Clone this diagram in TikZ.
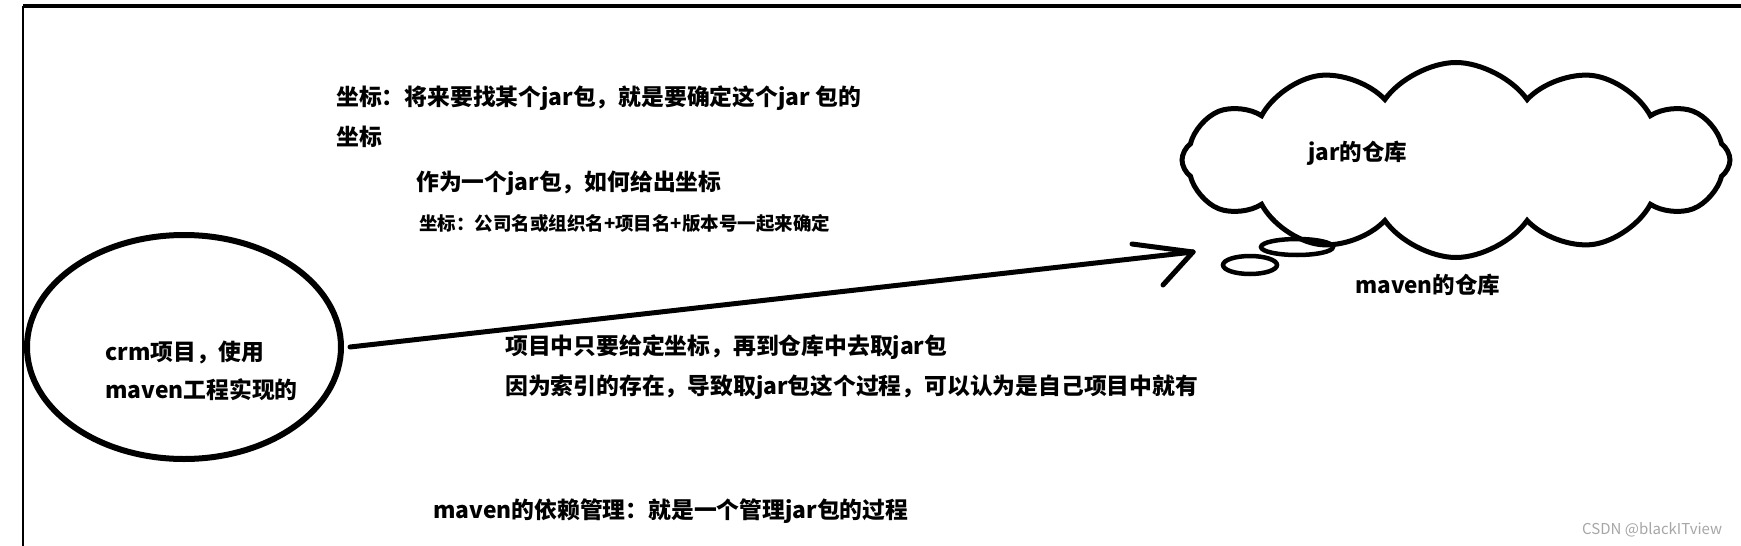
\documentclass[tikz,border=0pt]{standalone}
\usepackage{fontspec}
\newfontfamily\cjk{Noto Sans CJK SC}
\usetikzlibrary{shapes.geometric,shapes.symbols}

\begin{document}
\begin{tikzpicture}[x=1pt, y=-1pt,
    txt/.style={anchor=west, inner sep=0pt, font=\cjk\bfseries\fontsize{22.8}{27}\selectfont},
    smalltxt/.style={txt, font=\cjk\bfseries\fontsize{18.5}{22}\selectfont},
    stroke/.style={line width=5pt, line cap=round}]
    \useasboundingbox (0,0) rectangle (1741,546);

    % frame of the screenshot
    \draw[line width=4pt] (23,6) -- (1741,6);
    \draw[line width=2.5pt] (23,6) -- (23,546);

    \node[txt] (coordA) at (336,98)  {坐标：将来要找某个jar包，就是要确定这个jar 包的};
    \node[txt] (coordB) at (336,137) {坐标};
    \node[txt] (howto)  at (416,183) {作为一个jar包，如何给出坐标};
    \node[smalltxt] (gav) at (419,223) {坐标：公司名或组织名+项目名+版本号一起来确定};

    \node[ellipse, draw, line width=6pt, minimum width=314, minimum height=224] (crm) at (184,347) {};
    \node[txt, align=left, font=\cjk\bfseries\fontsize{22.8}{38}\selectfont] (crmtext) at (105,371)
        {crm项目，使用\\maven工程实现的};

    \node[cloud, draw, line width=5pt, cloud puffs=12, cloud puff arc=110, cloud ignores aspect,
          minimum width=548, minimum height=195] (repo) at (1456,160) {};
    \node[txt, font=\cjk\bfseries\fontsize{22.5}{26}\selectfont] (jarrepo) at (1308,153) {jar的仓库};
    \node[txt, font=\cjk\bfseries\fontsize{22.5}{26}\selectfont] (mvnrepo) at (1355,285) {maven的仓库};
    \draw[line width=4.5pt] (1297,247) ellipse [x radius=36, y radius=8];
    \draw[line width=4.5pt] (1250,265) ellipse [x radius=27, y radius=9];

    \coordinate (tip) at (1193,252);
    \draw[stroke] ([xshift=6pt]crm.east) -- (tip);
    \draw[stroke] (tip) -- ++(-61,-8);
    \draw[stroke] (tip) -- ++(-30,33);

    \node[txt] (fetch) at (505,347) {项目中只要给定坐标，再到仓库中去取jar包};
    \node[txt] (index) at (505,387) {因为索引的存在，导致取jar包这个过程，可以认为是自己项目中就有};
    \node[txt] (dep)   at (433,511) {maven的依赖管理：就是一个管理jar包的过程};

    \node[anchor=west, inner sep=0pt, text=gray!70, font=\cjk\fontsize{15}{18}\selectfont] (wm) at (1582,530) {CSDN @blackITview};
\end{tikzpicture}
\end{document}
